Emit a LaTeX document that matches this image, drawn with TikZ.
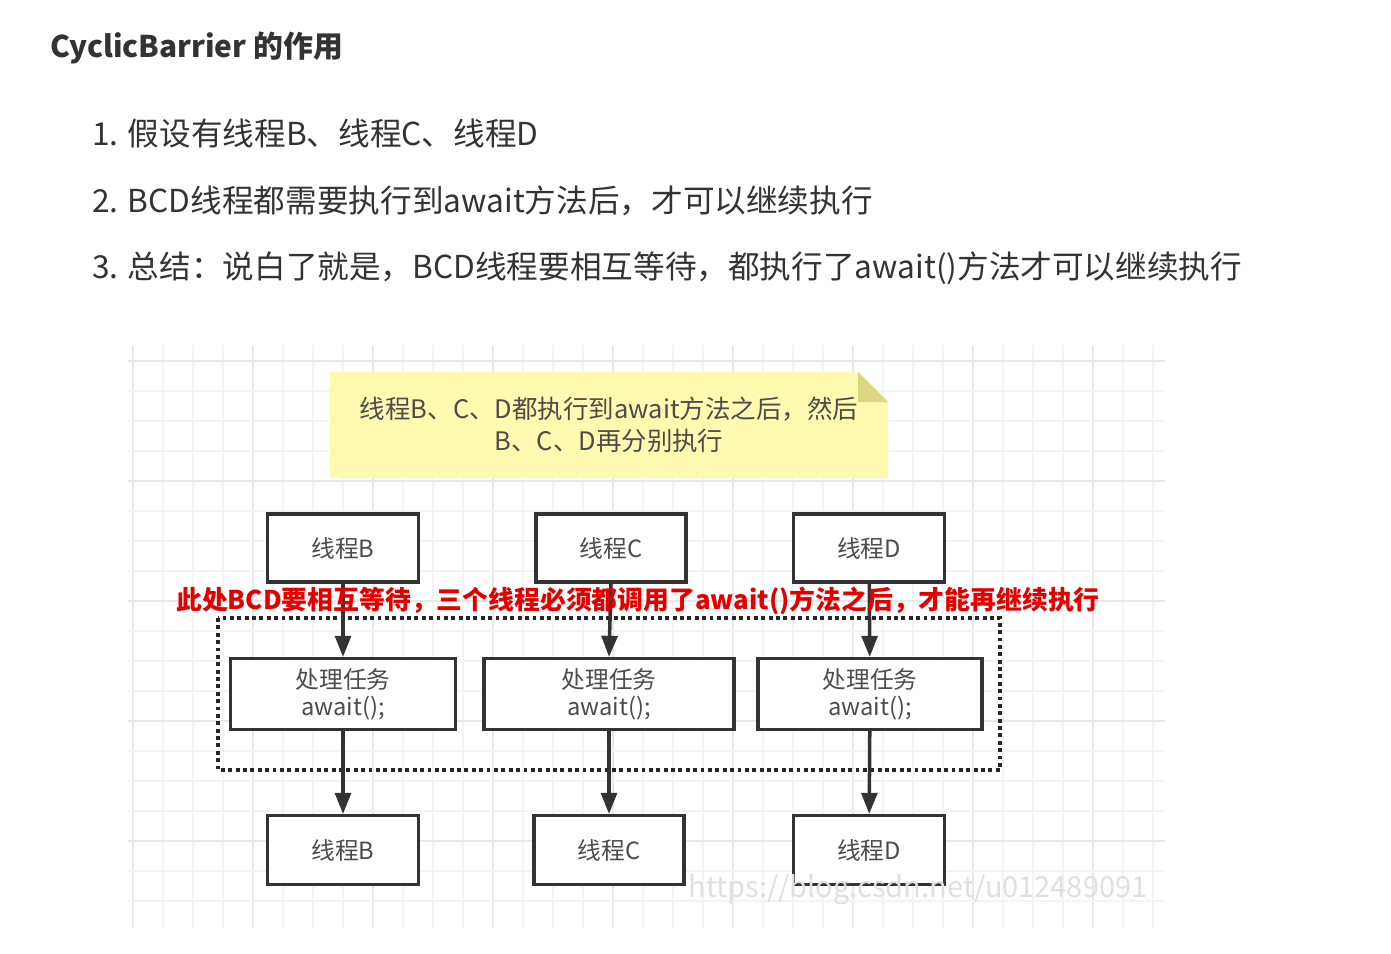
\documentclass[tikz,border=0pt]{standalone}
\usepackage{fontspec}
\setmainfont{Noto Sans CJK SC}
\usetikzlibrary{arrows.meta}
\definecolor{txtgray}{RGB}{51,51,51}
\definecolor{notefill}{RGB}{255,250,175}
\definecolor{notefold}{RGB}{220,215,130}
\definecolor{gridminor}{RGB}{244,244,244}
\definecolor{gridmajor}{RGB}{232,232,232}
\tikzset{
  thread/.style={draw=black!80,line width=1.8pt,fill=white,inner sep=0pt,
    font=\fontsize{13.5}{15.5}\selectfont,text=black!70,align=center},
  flow/.style={draw=black!80,line width=2pt,-{Triangle[length=12pt,width=9pt]}},
  item/.style={anchor=west,font=\fontsize{18}{21}\selectfont,text=txtgray}
}
\begin{document}
\begin{tikzpicture}[x=0.02cm,y=-0.02cm]
  \useasboundingbox (0,0) rectangle (1391,953);
  \fill[white] (0,0) rectangle (1391,953);

  %%% HEADER %%%
  \node[anchor=west,font=\bfseries\fontsize{17}{20}\selectfont,text=txtgray] (title) at (44,48) {CyclicBarrier 的作用};
  \node[item] (l1) at (86,133) {1. 假设有线程B、线程C、线程D};
  \node[item] (l2) at (86,201) {2. BCD线程都需要执行到await方法后，才可以继续执行};
  \node[item] (l3) at (86,268) {3. 总结：说白了就是，BCD线程要相互等待，都执行了await()方法才可以继续执行};

  %%% GRID %%%
  \foreach \i in {0,...,34} {
    \pgfmathtruncatemacro\m{mod(\i,4)}
    \ifnum\m=0 \def\gc{gridmajor}\else\def\gc{gridminor}\fi
    \draw[\gc,line width=1pt] ({133+30*\i},345) -- ({133+30*\i},928);
  }
  \foreach \j in {0,...,18} {
    \pgfmathtruncatemacro\m{mod(\j,4)}
    \ifnum\m=0 \def\gc{gridmajor}\else\def\gc{gridminor}\fi
    \draw[\gc,line width=1pt] (128,{361+30*\j}) -- (1165,{361+30*\j});
  }

  %%% NOTE %%%
  \fill[notefill] (330,372) -- (858,372) -- (888,402) -- (888,478) -- (330,478) -- cycle;
  \fill[notefold] (858,372) -- (888,402) -- (858,402) -- cycle;
  \node[font=\fontsize{14.5}{18}\selectfont,text=black!70,align=center] (note) at (609,425)
    {线程B、C、D都执行到await方法之后，然后\\B、C、D再分别执行};

  %%% DOTTED FRAME %%%
  \draw[black!85,line width=2.2pt,dotted] (218,618) rectangle (1000,770);

  %%% BOXES %%%
  \node[thread,minimum width=151*0.02cm,minimum height=68*0.02cm] (b1) at (343,548) {线程B};
  \node[thread,minimum width=150*0.02cm,minimum height=68*0.02cm] (c1) at (611,548) {线程C};
  \node[thread,minimum width=151*0.02cm,minimum height=68*0.02cm] (d1) at (869,548) {线程D};
  \node[thread,minimum width=225*0.02cm,minimum height=71*0.02cm] (b2) at (343,694) {处理任务\\await();};
  \node[thread,minimum width=250*0.02cm,minimum height=71*0.02cm] (c2) at (609,694) {处理任务\\await();};
  \node[thread,minimum width=224*0.02cm,minimum height=71*0.02cm] (d2) at (870,694) {处理任务\\await();};
  \node[thread,minimum width=151*0.02cm,minimum height=69*0.02cm] (b3) at (343,850) {线程B};
  \node[thread,minimum width=150*0.02cm,minimum height=69*0.02cm] (c3) at (609,850) {线程C};
  \node[thread,minimum width=151*0.02cm,minimum height=69*0.02cm] (d3) at (869,850) {线程D};

  %%% ARROWS %%%
  \draw[flow] (b1) -- (b2);
  \draw[flow] (c1.south) -- (c2.north);
  \draw[flow] (d1) -- (d2);
  \draw[flow] (b2) -- (b3);
  \draw[flow] (c2) -- (c3);
  \draw[flow] (d2) -- (d3);

  %%% LABELS %%%
  \node[font=\bfseries\fontsize{14.7}{17}\selectfont,text=red!90!black] (warn) at (638,601)
    {此处BCD要相互等待，三个线程必须都调用了await()方法之后，才能再继续执行};
  \node[font=\fontsize{16.5}{19}\selectfont,text=black!12] (mark) at (918,890) {https://blog.csdn.net/u012489091};
\end{tikzpicture}
\end{document}
